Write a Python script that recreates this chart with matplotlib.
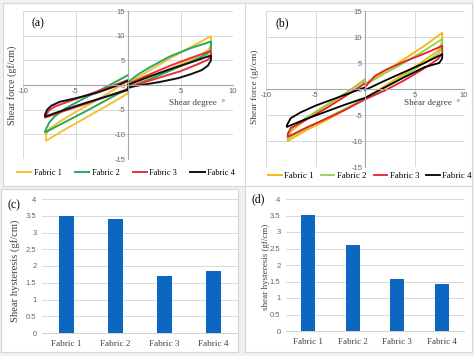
import matplotlib
matplotlib.use("Agg")
import matplotlib.pyplot as plt
from matplotlib.patches import Rectangle

plt.rcParams['axes.unicode_minus'] = False

W, H = 474, 356

# ---- (a) shear loops: path = pos upper, pos lower, neg lower, neg upper
a_f1_x = [0, 2, 4, 6, 7.9, 7.9, 7.6, 6.5, 5, 3, 1, 0, 0, -2, -4, -6, -7.8, -7.8, -7.5, -6.5, -5, -3, -1, 0]
a_f1_y = [0.3, 2.9, 5.4, 7.7, 9.9, 8.0, 7.0, 5.6, 4.2, 2.3, 0.4, -0.6, -1.7, -4.2, -6.6, -9.0, -11.3, -10.0, -8.9, -7.4, -5.5, -3.1, -0.5, 0.8]
a_f2_x = [0, 1, 2, 4, 6, 7.9, 7.9, 7.6, 6.5, 5, 3, 1, 0, -2, -4, -6, -7.9, -7.9, -7.5, -7, -6, -4, -2, 0]
a_f2_y = [0.6, 2.2, 3.5, 5.8, 7.5, 8.8, 7.2, 6.4, 5.2, 3.8, 2.0, 0.2, -0.7, -3.0, -5.3, -7.5, -9.6, -9.4, -7.6, -6.4, -4.8, -2.5, -0.3, 2.0]
a_f3_x = [0, 2, 4, 6, 7.9, 7.9, 7.6, 6.5, 5, 3, 1, 0, 0, -2, -4, -6, -7.9, -7.9, -7.5, -7, -6, -4, -2, 0]
a_f3_y = [0.2, 2.1, 3.9, 5.5, 6.9, 5.9, 5.1, 4.1, 2.8, 1.5, 0.2, -0.4, -0.8, -2.3, -3.8, -5.2, -6.6, -6.3, -5.1, -4.4, -3.6, -2.1, -0.6, 1.0]
a_f4_x = [0, 2, 4, 6, 7.9, 7.9, 7.6, 7, 6, 4.8, 3, 1, 0, 0, -2, -4, -6, -7.9, -7.9, -7.7, -7.3, -6.5, -5, -3, -1, 0]
a_f4_y = [0.0, 1.7, 3.2, 4.6, 6.0, 5.0, 3.9, 3.0, 2.2, 1.4, 0.6, -0.1, -0.5, -1.0, -2.3, -3.6, -5.0, -6.4, -6.0, -5.0, -4.2, -3.4, -2.7, -1.6, -0.1, 0.9]

# ---- (b) shear loops
b_f1_x = [0, 2, 4, 6, 7.8, 7.8, 7.4, 6, 4, 2, 0, -2, -4, -6, -7.8, -7.8, -7.4, -6, -4, -2, 0]
b_f1_y = [1.0, 3.4, 5.8, 8.3, 10.8, 9.1, 7.4, 5.5, 3.0, 0.6, -1.8, -4.0, -6.1, -8.0, -10.0, -9.4, -8.0, -5.9, -3.4, -0.9, 1.9]
b_f2_x = [0, 2, 4, 6, 7.8, 7.8, 7.4, 6, 4, 2, 0, -2, -4, -6, -7.8, -7.8, -7.4, -6, -4, -2, 0]
b_f2_y = [0.8, 3.0, 5.1, 7.4, 9.6, 8.1, 6.8, 5.0, 2.6, 0.3, -1.8, -3.8, -5.7, -7.6, -9.5, -9.0, -7.6, -5.6, -3.2, -0.8, 1.6]
b_f3_x = [0, 0.5, 1, 2, 4, 6, 7.8, 7.8, 7.4, 6, 4, 2, 0, -2, -4, -6, -7.8, -7.8, -7.5, -6, -4, -2, 0]
b_f3_y = [0.3, 1.5, 2.5, 3.6, 5.3, 6.8, 8.3, 6.9, 5.8, 4.0, 1.7, -0.3, -2.0, -4.0, -5.8, -7.5, -9.2, -8.6, -7.5, -6.0, -3.8, -1.4, 1.1]
b_f4_x = [0, 2, 4, 6, 7.8, 7.8, 7.5, 6, 4, 2, 0, -2, -4, -6, -7.9, -7.9, -7.5, -6.5, -5, -3, -1, 0]
b_f4_y = [-0.2, 1.6, 3.3, 5.0, 6.7, 5.9, 5.0, 4.2, 2.3, 0.3, -1.7, -3.0, -4.4, -5.8, -7.3, -7.0, -5.6, -4.5, -3.2, -1.8, -0.4, 0.3]

# ---- (c), (d) bars
fabrics = ["Fabric 1", "Fabric 2", "Fabric 3", "Fabric 4"]
c_hyst = [3.48, 3.39, 1.70, 1.85]
d_hyst = [3.53, 2.62, 1.58, 1.41]

a_colors = ["#f2c232", "#27a85c", "#e8313a", "#111111"]
b_colors = ["#f2b705", "#92d050", "#e3202b", "#000000"]
bar_color = "#0b67c0"

serif = "Liberation Serif"
sans = "Liberation Sans"


def fx(px):
    return px / W


def fy(py):
    return 1 - py / H


def box(x0, y0, x1, y1):
    return [fx(x0), fy(y1), fx(x1) - fx(x0), fy(y0) - fy(y1)]


fig = plt.figure(figsize=(W / 100, H / 100), dpi=100, facecolor="#f1f1f1")

# white panels with light frames
for x0, y0, x1, y1 in [(3, 3, 245, 186), (245, 3, 472, 186), (1, 189, 238, 352), (245, 186, 472, 352)]:
    fig.add_artist(Rectangle((fx(x0), fy(y1)), fx(x1) - fx(x0), fy(y0) - fy(y1),
                             transform=fig.transFigure, facecolor="white",
                             edgecolor="#d6d6d6", lw=0.8, zorder=0))


def loop_axes(rect, curves, colors, lw, tick_fs):
    ax = fig.add_axes(rect)
    ax.patch.set_alpha(0)
    for (xs, ys), c in zip(curves, colors):
        ax.plot(xs, ys, color=c, lw=lw, solid_joinstyle="round")
    ax.set_xlim(-10, 10)
    ax.set_ylim(-15, 15)
    ax.set_xticks([-10, -5, 0, 5, 10])
    ax.set_xticklabels(["-10", "-5", "", "5", "10"])
    ax.set_yticks([-15, -10, -5, 0, 5, 10, 15])
    ax.grid(True, color="#d9d9d9", lw=0.7)
    ax.set_axisbelow(True)
    for s in ["top", "right"]:
        ax.spines[s].set_visible(False)
    ax.spines["left"].set_position(("data", 0))
    ax.spines["bottom"].set_position(("data", 0))
    ax.spines["left"].set_color("#a6a6a6")
    ax.spines["bottom"].set_color("#a6a6a6")
    ax.spines["left"].set_linewidth(0.8)
    ax.spines["bottom"].set_linewidth(0.8)
    ax.tick_params(length=0, pad=2, labelsize=tick_fs, labelcolor="#666666")
    for t in ax.get_xticklabels() + ax.get_yticklabels():
        t.set_fontfamily(sans)
    return ax


ax_a = loop_axes(box(23, 11, 233, 159),
                 [(a_f1_x, a_f1_y), (a_f2_x, a_f2_y), (a_f3_x, a_f3_y), (a_f4_x, a_f4_y)],
                 a_colors, 1.4, 5.5)
ax_b = loop_axes(box(266, 11, 464, 167),
                 [(b_f1_x, b_f1_y), (b_f2_x, b_f2_y), (b_f3_x, b_f3_y), (b_f4_x, b_f4_y)],
                 b_colors, 1.3, 5.5)

fig.text(fx(32), fy(23), "(a)", family=serif, fontsize=8.5, va="center")
fig.text(fx(275), fy(23), "(b)", family=serif, fontsize=8.5, va="center")
fig.text(fx(12), fy(85), "Shear force (gf/cm)", family=serif, fontsize=7.3,
         rotation=90, ha="center", va="center", color="#404040")
fig.text(fx(255), fy(87), "Shear force (gf/cm)", family=serif, fontsize=6.8,
         rotation=90, ha="center", va="center", color="#404040")
fig.text(fx(197), fy(103), "Shear degree  \u00b0", family=serif, fontsize=6.6,
         ha="center", va="center", color="#404040")
fig.text(fx(432), fy(103), "Shear degree  \u00b0", family=serif, fontsize=6.6,
         ha="center", va="center", color="#404040")

# legends
handles_a = [plt.Line2D([], [], color=c, lw=1.4) for c in a_colors]
fig.legend(handles_a, fabrics, loc="center", bbox_to_anchor=(fx(126), fy(173)), ncol=4,
           frameon=False, prop={"family": serif, "size": 6}, handlelength=1.7,
           handletextpad=0.3, columnspacing=1.6, borderaxespad=0, borderpad=0)
handles_b = [plt.Line2D([], [], color=c, lw=1.3) for c in b_colors]
fig.legend(handles_b, fabrics, loc="center", bbox_to_anchor=(fx(370), fy(176)), ncol=4,
           frameon=False, prop={"family": serif, "size": 6.4}, handlelength=1.5,
           handletextpad=0.3, columnspacing=0.8, borderaxespad=0, borderpad=0)


def bar_axes(rect, vals, tick_fs, cat_fs):
    ax = fig.add_axes(rect)
    ax.patch.set_alpha(0)
    ax.bar(range(len(fabrics)), vals, width=0.31, color=bar_color, zorder=3)
    ax.set_xlim(-0.5, len(fabrics) - 0.5)
    ax.set_ylim(0, 4)
    ax.set_yticks([0, 0.5, 1, 1.5, 2, 2.5, 3, 3.5, 4])
    ax.set_yticklabels(["0", "0.5", "1", "1.5", "2", "2.5", "3", "3.5", "4"])
    ax.set_xticks(range(len(fabrics)))
    ax.set_xticklabels(fabrics)
    ax.yaxis.grid(True, color="#d9d9d9", lw=0.7)
    for s in ["top", "right", "left"]:
        ax.spines[s].set_visible(False)
    ax.spines["bottom"].set_color("#d0d0d0")
    ax.spines["bottom"].set_linewidth(0.7)
    ax.tick_params(length=0)
    ax.tick_params(axis="y", pad=4, labelsize=tick_fs, labelcolor="#666666")
    ax.tick_params(axis="x", pad=5, labelsize=cat_fs, labelcolor="#404040")
    for t in ax.get_yticklabels():
        t.set_fontfamily(sans)
    for t in ax.get_xticklabels():
        t.set_fontfamily(serif)
    return ax


ax_c = bar_axes(box(42, 199, 238, 333), c_hyst, 5.5, 6.6)
ax_d = bar_axes(box(286, 199, 464, 331), d_hyst, 5.5, 6.5)

fig.text(fx(7), fy(205), "(c)", family=serif, fontsize=8.5, va="center")
fig.text(fx(252), fy(199), "(d)", family=serif, fontsize=8.5, va="center")
fig.text(fx(15), fy(271), "Shear hysteresis (gf/cm)", family=serif, fontsize=7.6,
         rotation=90, ha="center", va="center", color="#404040")
fig.text(fx(266), fy(267), "shear hysteresis (gf/cm)", family=serif, fontsize=6.5,
         rotation=90, ha="center", va="center", color="#404040")

fig.savefig("out.png", dpi=100, facecolor=fig.get_facecolor())
